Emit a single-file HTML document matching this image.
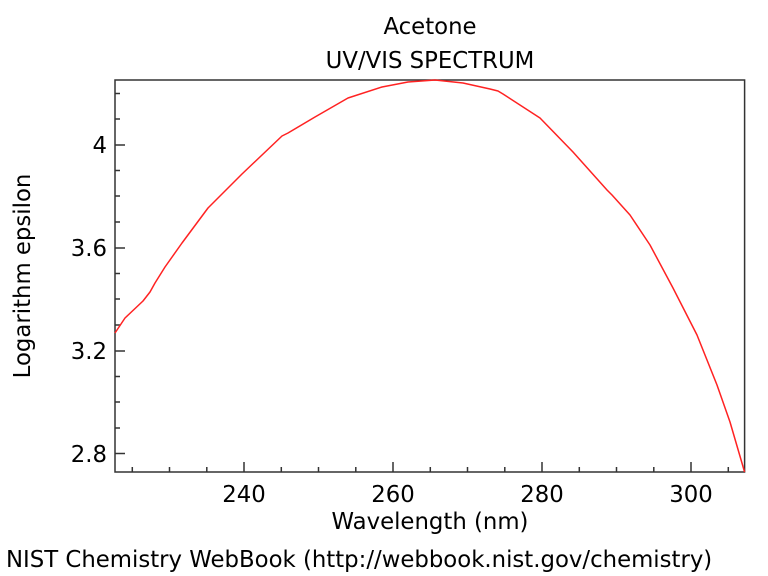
<!DOCTYPE html>
<html><head><style>body{margin:0;background:#fff}svg{display:block}text{font-family:"DejaVu Sans","Liberation Sans",sans-serif;fill:#000}</style></head>
<body>
<svg width="768" height="576" viewBox="0 0 768 576">
<text x="430" y="34" font-size="22.8" text-anchor="middle">Acetone</text>
<text x="430" y="68" font-size="22.8" text-anchor="middle">UV/VIS SPECTRUM</text>
<g stroke="#333" stroke-width="1.5" fill="none">
<rect x="115" y="80" width="629.6" height="392"/>
<path d="M115 145h10M115 248h10M115 351h10M115 453.5h10
M115 93.5h5M115 119h5M115 170.5h5M115 196h5M115 222h5M115 273.5h5M115 299h5M115 325h5M115 376.5h5M115 402h5M115 428h5
M244 472v-10M393 472v-10M542 472v-10M691 472v-10
M132.3 472v-5M169.5 472v-5M206.8 472v-5M281.3 472v-5M318.5 472v-5M355.8 472v-5M430.3 472v-5M467.5 472v-5M504.8 472v-5M579.3 472v-5M616.5 472v-5M653.8 472v-5M728.3 472v-5"/>
</g>
<g font-size="22.8">
<text x="107" y="153" text-anchor="end">4</text>
<text x="107" y="256" text-anchor="end">3.6</text>
<text x="107" y="359" text-anchor="end">3.2</text>
<text x="107" y="462" text-anchor="end">2.8</text>
<text x="244" y="502" text-anchor="middle">240</text>
<text x="393" y="502" text-anchor="middle">260</text>
<text x="542" y="502" text-anchor="middle">280</text>
<text x="691" y="502" text-anchor="middle">300</text>
<text x="430" y="529" text-anchor="middle">Wavelength (nm)</text>
<text transform="translate(30,276) rotate(-90)" text-anchor="middle">Logarithm epsilon</text>
<text x="6" y="567">NIST Chemistry WebBook (http://webbook.nist.gov/chemistry)</text>
</g>
<polyline fill="none" stroke="#f22" stroke-width="1.5" stroke-linejoin="round" points="115,333 125,318 143,301 150,292 155,283 165,267 182,243 208,208 242,174 282,136 288,133 315,117 348,98 382,87 408,82 435,80 463,83 490,89 498,91 503,94 540,118 573,152 607,190 612,195 630,215 650,245 673,288 697,335 717,385 730,422 744.6,472"/>
</svg>
</body></html>
